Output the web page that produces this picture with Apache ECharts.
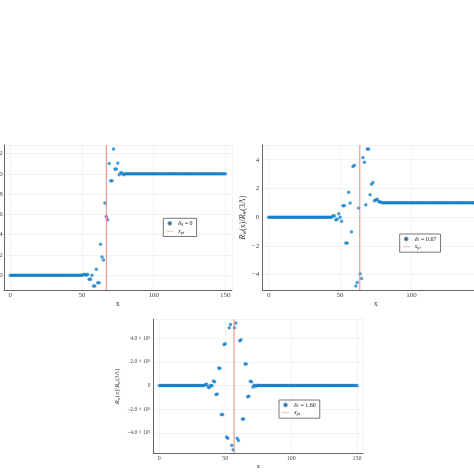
<!DOCTYPE html>
<html><head><meta charset="utf-8">
<script src="https://cdn.jsdelivr.net/npm/echarts@6/dist/echarts.min.js"></script>
<style>html,body{margin:0;padding:0;background:#fff}#c{width:474px;height:474px}</style>
</head><body><div id="c"></div>
<script>
// sample grid x = 0..150
const xs = Array.from({length: 151}, (_, i) => i);

// panel 1: delta0 = 0
const y1 = [
 0,0,0,0,0,0,0,0,0,0, 0,0,0,0,0,0,0,0,0,0, 0,0,0,0,0,0,0,0,0,0,
 0,0,0,0,0,0,0,0,0,0, 0,0,0,0,0,0,0,0,0,0, 0,
 0.005,0.01,0.0,0.01,-0.04,-0.04,0.0,-0.105,-0.105,0.06,
 -0.075,-0.075,0.305,0.18,0.15,0.713,0.578,0.546,1.10,0.93,
 0.93,1.243,1.046,1.046,1.105,0.99,1.013,1.006,0.99,
 1,1,1,1,1,1,1,1,1,1, 1,1,1,1,1,1,1,1,1,1, 1,1,1,1,1,1,1,1,1,1,
 1,1,1,1,1,1,1,1,1,1, 1,1,1,1,1,1,1,1,1,1, 1,1,1,1,1,1,1,1,1,1,
 1,1,1,1,1,1,1,1,1,1, 1
];
const xpt1 = 67.0;

// panel 2: delta1 = 0.67
const y2 = [
 0,0,0,0,0,0,0,0,0,0, 0,0,0,0,0,0,0,0,0,0, 0,0,0,0,0,0,0,0,0,0,
 0,0,0,0,0,0,0,0,0,0, 0,0,0,0, 0,
 0.09,0.09,-0.19,-0.14,0.23,0.0,-0.28,0.79,0.81,-1.81,
 -1.81,1.74,0.98,-1.02,3.53,3.62,-4.79,-4.55,0.63,-3.95,
 -4.27,4.16,3.83,0.86,4.74,4.74,1.56,2.30,2.42,1.14,
 1.21,1.25,1.07,1.07,1.02,
 1,1,1,1,1,1,1,1,1,1, 1,1,1,1,1,1,1,1,1,1, 1,1,1,1,1,1,1,1,1,1,
 1,1,1,1,1,1,1,1,1,1, 1,1,1,1,1,1,1,1,1,1, 1,1,1,1,1,1,1,1,1,1,
 1,1,1,1,1,1,1,1,1,1, 1
];
const xpt2 = 63.8;

// panel 3: delta1 = 1.60
const y3 = [
 0,0,0,0,0,0,0,0,0,0, 0,0,0,0,0,0,0,0,0,0, 0,0,0,0,0,0,0,0,0,0,
 0,0,0,0,0,
 0.08e6,0.11e6,-0.12e6,-0.17e6,0.02e6,-0.03e6,0.39e6,0.31e6,-0.77e6,-0.71e6,
 1.49e6,1.45e6,-2.46e6,-2.46e6,3.47e6,3.53e6,-4.35e6,-4.46e6,4.88e6,5.17e6,
 -5.06e6,-5.43e6,4.88e6,5.28e6,-4.46e6,-4.66e6,3.78e6,3.87e6,-2.83e6,-2.83e6,
 1.83e6,1.83e6,-0.94e6,-0.90e6,0.36e6,0.31e6,-0.12e6,0.03e6,-0.06e6,0.03e6,
 0,0,0,0,0,0,0,0,0,0, 0,0,0,0,0,0,0,0,0,0, 0,0,0,0,0,0,0,0,0,0,
 0,0,0,0,0,0,0,0,0,0, 0,0,0,0,0,0,0,0,0,0, 0,0,0,0,0,0,0,0,0,0,
 0,0,0,0,0,0,0,0,0,0, 0,0,0,0,0,0
];
const xpt3 = 56.7;

const legendNames = {
  s1: '{i|δ}{s|0} = 0', s2: '{i|δ}{s|1} = 0.67', s3: '{i|δ}{s|1} = 1.60', v: '{i|x}{s|pt}'
};
const yName = '{i|R}{s|w}(x)/{i|R}{s|w}(3Λ)';

const FONT = 'Liberation Serif';
const BLUE = '#0a8fe6';
const RED = '#e98a76';

function ext(arr) {
  const mn = Math.min(...arr), mx = Math.max(...arr), p = 0.03 * (mx - mn);
  return [mn - p, mx + p];
}
const xe = ext(xs);
const e1 = ext(y1), e2 = ext(y2), e3 = ext(y3);
const minus = s => s.replace('-', '−');

function xAx(gi, fs, gap) {
  return {
    type: 'value', gridIndex: gi, min: xe[0], max: xe[1], splitNumber: 3,
    name: 'x', nameLocation: 'middle', nameGap: gap,
    nameTextStyle: {fontFamily: FONT, fontSize: fs + 1, color: '#333'},
    axisLine: {onZero: false, lineStyle: {color: '#666', width: 1}},
    axisTick: {show: false},
    axisLabel: {showMinLabel: false, showMaxLabel: false, fontSize: fs, margin: 2, color: '#444', fontFamily: FONT},
    splitLine: {show: true, lineStyle: {color: '#eeeeee', width: 0.7}}
  };
}
function yAx(gi, e, split, fs, fmt, gap, nfs, margin) {
  return {
    type: 'value', gridIndex: gi, min: e[0], max: e[1], splitNumber: split,
    name: yName, nameLocation: 'middle', nameGap: gap, nameRotate: 90,
    nameTextStyle: {fontFamily: FONT, fontSize: nfs, color: '#333',
      rich: {i: {fontFamily: FONT, fontSize: nfs, fontStyle: 'italic', color: '#333'},
             s: {fontFamily: FONT, fontSize: nfs * 0.7, fontStyle: 'italic', color: '#333', padding: [nfs * 0.45, 0, 0, 0]}}},
    axisLine: {onZero: false, lineStyle: {color: '#666', width: 1}},
    axisTick: {show: false},
    axisLabel: {showMinLabel: false, showMaxLabel: false, fontSize: fs, margin, color: '#444', fontFamily: FONT, formatter: fmt},
    splitLine: {show: true, lineStyle: {color: '#eeeeee', width: 0.7}}
  };
}
function legend(left, top, names, fs) {
  return {
    left, top, orient: 'vertical', selectedMode: false,
    data: [{name: names[0], icon: 'circle'}, {name: names[1], icon: 'path://M0,0H12V1H0Z'}],
    itemWidth: 7, itemHeight: 2.8, itemGap: 1.5, padding: [2, 4, 2, 3], symbolKeepAspect: true,
    borderColor: '#555', borderWidth: 0.8, backgroundColor: '#fff',
    formatter: n => legendNames[n.startsWith('v') ? 'v' : n],
    textStyle: {fontFamily: FONT, fontSize: fs, color: '#222',
      rich: {i: {fontFamily: FONT, fontSize: fs, fontStyle: 'italic', color: '#222'},
             s: {fontFamily: FONT, fontSize: fs * 0.7, fontStyle: 'italic', color: '#222', padding: [fs * 0.45, 0, 0, 0]}}}
  };
}
function pts(ys) { return xs.map((x, i) => [x, ys[i]]); }
function scat(name, gi, ys) {
  return {type: 'scatter', name, xAxisIndex: gi, yAxisIndex: gi, data: pts(ys), symbolSize: 3,
    itemStyle: {color: BLUE, borderColor: 'rgba(0,40,80,0.55)', borderWidth: 0.4}, silent: true};
}
function vline(name, gi, xp, e) {
  return {type: 'line', name, xAxisIndex: gi, yAxisIndex: gi, data: [[xp, e[0]], [xp, e[1]]], symbol: 'none',
    lineStyle: {color: RED, width: 1}, itemStyle: {color: RED}, silent: true, z: 3};
}

const chart = echarts.init(document.getElementById('c'), null, {renderer: 'canvas'});
chart.setOption({
  animation: false,
  backgroundColor: '#fff',
  grid: [
    {left: 3.8, top: 145, width: 228, height: 145, outerBoundsMode: 'none', containLabel: false},
    {left: 262.3, top: 145, width: 227, height: 145, outerBoundsMode: 'none', containLabel: false},
    {left: 153.4, top: 319.3, width: 209.6, height: 134.2, outerBoundsMode: 'none', containLabel: false}
  ],
  xAxis: [xAx(0, 7, 6), xAx(1, 7, 6), xAx(2, 6, 4)],
  yAxis: [
    yAx(0, e1, 7, 7, v => v.toFixed(1), 24, 8, 1),
    yAx(1, e2, 5, 7, v => minus(String(v)), 5.5, 8, 3),
    yAx(2, e3, 5, 5.5, v => v === 0 ? '0' : minus((v / 1e6).toFixed(1)) + ' × 10⁶', 32, 6.5, 3)
  ],
  legend: [
    legend(163.3, 218.3, ['s1', 'v1'], 6),
    legend(399.7, 234, ['s2', 'v2'], 6),
    legend(279, 400, ['s3', 'v3'], 6)
  ],
  series: [
    scat('s1', 0, y1), vline('v1', 0, xpt1, e1),
    scat('s2', 1, y2), vline('v2', 1, xpt2, e2),
    scat('s3', 2, y3), vline('v3', 2, xpt3, e3)
  ]
});
</script></body></html>
